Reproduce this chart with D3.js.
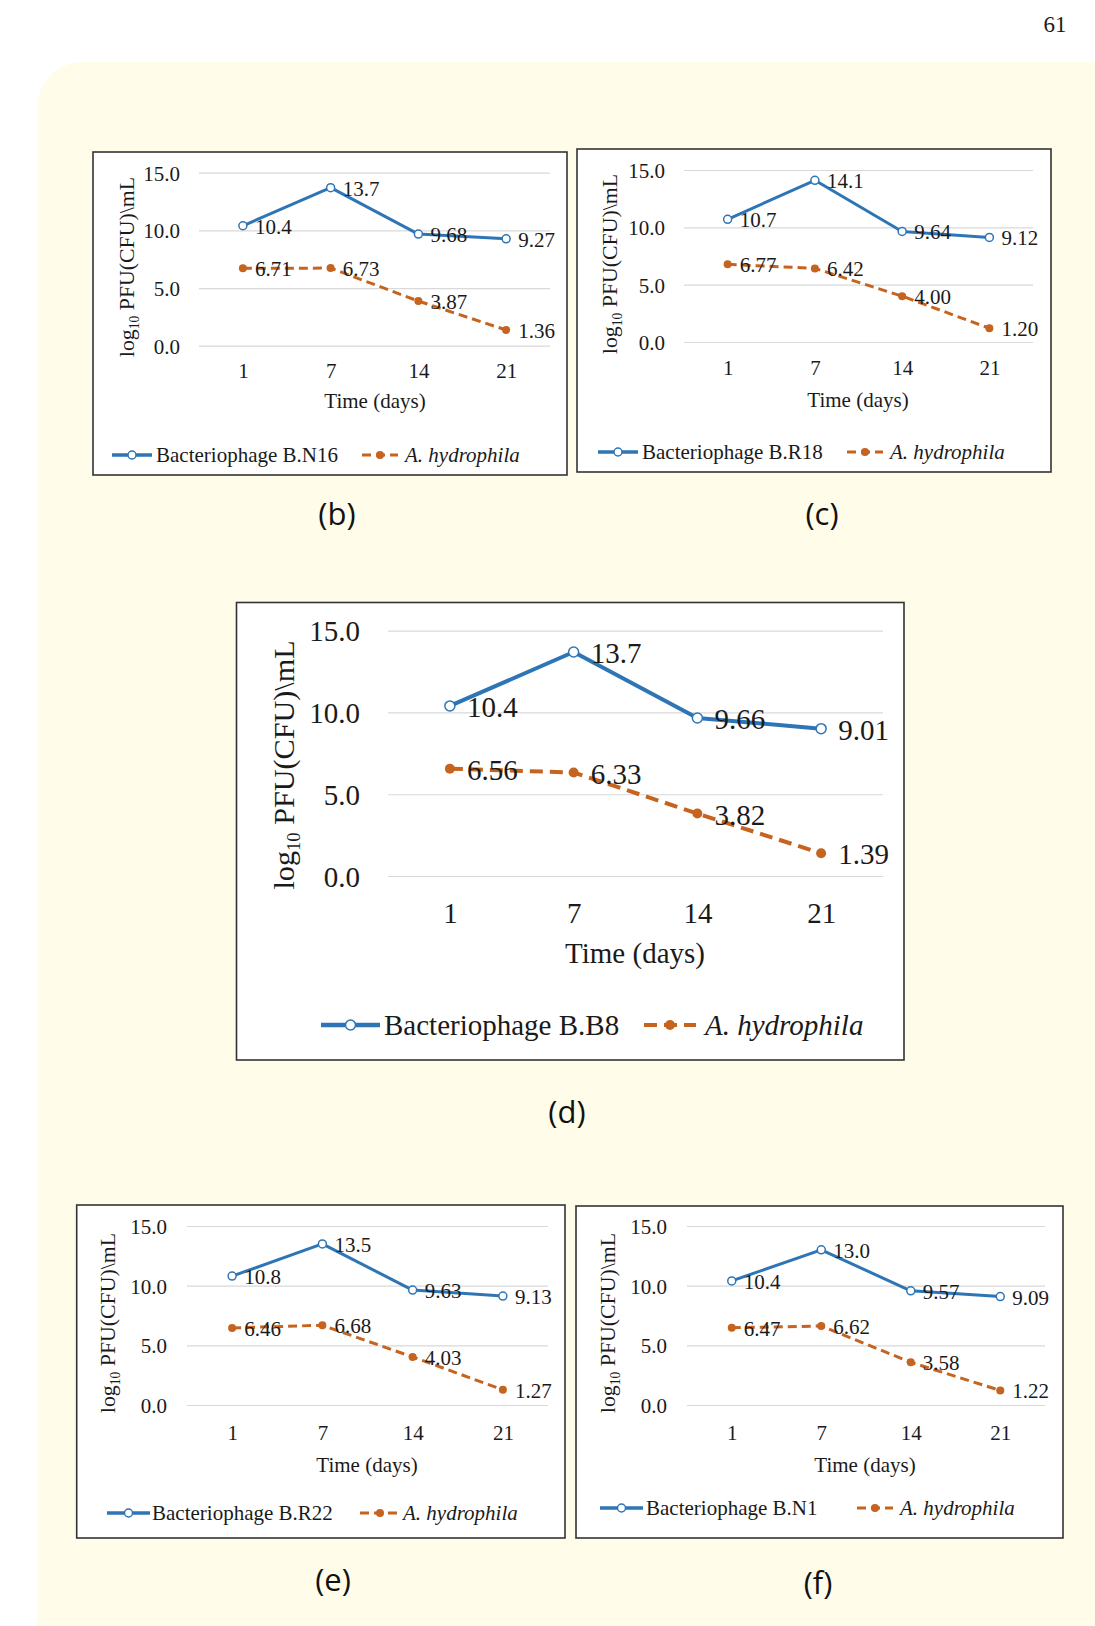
<!DOCTYPE html>
<html><head><meta charset="utf-8">
<script src="https://cdn.jsdelivr.net/npm/d3@7"></script>
<style>body{margin:0;background:#fff;} svg{display:block}</style>
</head><body>
<svg id="page" width="1095" height="1626"></svg>
<script>
// ---------- data ----------
const days = ["1", "7", "14", "21"];
const yTicks = [0, 5, 10, 15];
const hostName = "A. hydrophila";
const phageNames = ["Bacteriophage B.N16", "Bacteriophage B.R18", "Bacteriophage B.B8", "Bacteriophage B.R22", "Bacteriophage B.N1"];
const panelLabels = ["(b)", "(c)", "(d)", "(e)", "(f)"];
const phageBN16 = [10.4, 13.7, 9.68, 9.27];
const hostBN16  = [6.71, 6.73, 3.87, 1.36];
const phageBR18 = [10.7, 14.1, 9.64, 9.12];
const hostBR18  = [6.77, 6.42, 4.00, 1.20];
const phageBB8  = [10.4, 13.7, 9.66, 9.01];
const hostBB8   = [6.56, 6.33, 3.82, 1.39];
const phageBR22 = [10.8, 13.5, 9.63, 9.13];
const hostBR22  = [6.46, 6.68, 4.03, 1.27];
const phageBN1  = [10.4, 13.0, 9.57, 9.09];
const hostBN1   = [6.47, 6.62, 3.58, 1.22];
const pageNumber = "61";

// ---------- layout ----------
const BLUE = "#2E75B6", ORANGE = "#C5631F";
const SERIF = "'Liberation Serif', 'Times New Roman', serif";
const INK = "#1a1a1a";
const small = {fs: 21, lw: 3, r: 4, dash: "9,5", off: 12};
const big   = {fs: 29, lw: 4, r: 5, dash: "13,7", off: 17};

const panels = [
  {box:[93,152,567,475], px:[199,550], py:[345.7,172.7], tickR:180, xlab:378, xt:[375,408], yt:[127,267],
   leg:{y:455, b:[112,152], bt:156, o:[362,398], ot:405}, cap:[337,525], st: small,
   phage: phageBN16, host: hostBN16, name: phageNames[0], label: panelLabels[0]},
  {box:[577,149,1051,472], px:[684,1033], py:[342,170], tickR:665, xlab:375, xt:[858,407], yt:[610,264],
   leg:{y:452, b:[598,638], bt:642, o:[847,883], ot:890}, cap:[822,525], st: small,
   phage: phageBR18, host: hostBR18, name: phageNames[1], label: panelLabels[1]},
  {box:[236.5,602.5,904,1060], px:[388,883], py:[876,630.7], tickR:360, xlab:923, xt:[635,963], yt:[284,765],
   leg:{y:1025, b:[321,380], bt:384, o:[644,696], ot:705}, cap:[567,1123], st: big,
   phage: phageBB8, host: hostBB8, name: phageNames[2], label: panelLabels[2]},
  {box:[76.7,1205,565,1538], px:[187,548], py:[1405,1226], tickR:167, xlab:1440, xt:[367,1472], yt:[108,1323],
   leg:{y:1513, b:[107,150], bt:152, o:[360,400], ot:403}, cap:[333,1591], st: small,
   phage: phageBR22, host: hostBR22, name: phageNames[3], label: panelLabels[3]},
  {box:[576,1206,1063,1538], px:[687,1045], py:[1405,1226], tickR:667, xlab:1440, xt:[865,1472], yt:[608,1323],
   leg:{y:1508, b:[600,643], bt:646, o:[857,893], ot:900}, cap:[818,1594], st: small,
   phage: phageBN1, host: hostBN1, name: phageNames[4], label: panelLabels[4]}
];

const svg = d3.select("#page");

// page background
svg.append("rect").attr("x", 0).attr("y", 0).attr("width", 1095).attr("height", 1626).attr("fill", "#ffffff");
svg.append("rect").attr("x", 37).attr("y", 62).attr("width", 1100).attr("height", 1700)
  .attr("rx", 46).attr("ry", 46).attr("fill", "#FFFDE9");
svg.append("text").attr("x", 1055).attr("y", 32).attr("text-anchor", "middle")
  .attr("font-family", SERIF).attr("font-size", 23).attr("fill", INK).text(pageNumber);

const valFmt = d3.format(".3r");
const tickFmt = d3.format(".1f");

panels.forEach(p => {
  const st = p.st;
  const g = svg.append("g");
  const [bx0, by0, bx1, by1] = p.box;
  g.append("rect").attr("x", bx0).attr("y", by0).attr("width", bx1 - bx0).attr("height", by1 - by0)
    .attr("fill", "#ffffff").attr("stroke", "#333").attr("stroke-width", 1.6);

  const x = d3.scalePoint().domain(days).range(p.px).padding(0.5);
  const y = d3.scaleLinear().domain([0, 15]).range(p.py);

  // y axis with gridlines
  const ya = g.append("g").attr("transform", `translate(${p.px[0]},0)`)
    .call(d3.axisLeft(y).tickValues(yTicks).tickFormat(tickFmt)
      .tickSize(-(p.px[1] - p.px[0])).tickPadding(p.px[0] - p.tickR));
  ya.select(".domain").remove();
  ya.selectAll(".tick line").attr("stroke", "#D9D9D9").attr("stroke-width", 1.2);
  ya.selectAll(".tick text").attr("font-family", SERIF).attr("font-size", st.fs).attr("fill", INK).attr("dy", "0.35em");

  // x axis
  const xa = g.append("g").attr("transform", `translate(0,${p.py[0]})`)
    .call(d3.axisBottom(x).tickSize(0));
  xa.select(".domain").remove();
  xa.selectAll(".tick text").attr("font-family", SERIF).attr("font-size", st.fs).attr("fill", INK)
    .attr("y", p.xlab - p.py[0]).attr("dy", 0);

  // axis titles
  g.append("text").attr("x", p.xt[0]).attr("y", p.xt[1]).attr("text-anchor", "middle")
    .attr("font-family", SERIF).attr("font-size", st.fs).attr("fill", INK).text("Time (days)");
  const tfs = st.fs * 1.04;
  const yt = g.append("text")
    .attr("transform", `translate(${p.yt[0] + tfs * 0.32},${p.yt[1]}) rotate(-90)`)
    .attr("text-anchor", "middle").attr("font-family", SERIF).attr("font-size", tfs).attr("fill", INK);
  yt.append("tspan").text("log");
  yt.append("tspan").attr("font-size", tfs * 0.62).attr("dy", tfs * 0.22).text("10");
  yt.append("tspan").attr("dy", -tfs * 0.22).text(" PFU(CFU)\\mL");

  const line = d3.line().x((d, i) => x(days[i])).y(d => y(d));

  // host (dashed orange)
  g.append("path").datum(p.host).attr("d", line).attr("fill", "none").attr("stroke", ORANGE)
    .attr("stroke-width", st.lw).attr("stroke-dasharray", st.dash);
  g.selectAll(".hm").data(p.host).enter().append("circle")
    .attr("cx", (d, i) => x(days[i])).attr("cy", d => y(d)).attr("r", st.r).attr("fill", ORANGE);

  // phage (solid blue)
  g.append("path").datum(p.phage).attr("d", line).attr("fill", "none").attr("stroke", BLUE)
    .attr("stroke-width", st.lw).attr("stroke-linejoin", "round");
  g.selectAll(".pm").data(p.phage).enter().append("circle")
    .attr("cx", (d, i) => x(days[i])).attr("cy", d => y(d)).attr("r", st.r)
    .attr("fill", "#fff").attr("stroke", BLUE).attr("stroke-width", 1.5);

  // data labels
  [p.phage, p.host].forEach(vals => {
    g.selectAll(null).data(vals).enter().append("text")
      .attr("x", (d, i) => x(days[i]) + st.off).attr("y", d => y(d)).attr("dy", "0.38em")
      .attr("font-family", SERIF).attr("font-size", st.fs).attr("fill", INK)
      .text(d => valFmt(d));
  });

  // legend
  const L = p.leg;
  g.append("line").attr("x1", L.b[0]).attr("x2", L.b[1]).attr("y1", L.y).attr("y2", L.y)
    .attr("stroke", BLUE).attr("stroke-width", st.lw + 0.5);
  g.append("circle").attr("cx", (L.b[0] + L.b[1]) / 2).attr("cy", L.y).attr("r", st.r)
    .attr("fill", "#fff").attr("stroke", BLUE).attr("stroke-width", 1.5);
  g.append("text").attr("x", L.bt).attr("y", L.y).attr("dy", "0.35em")
    .attr("font-family", SERIF).attr("font-size", st.fs).attr("fill", INK).text(p.name);
  g.append("line").attr("x1", L.o[0]).attr("x2", L.o[1]).attr("y1", L.y).attr("y2", L.y)
    .attr("stroke", ORANGE).attr("stroke-width", st.lw).attr("stroke-dasharray", st.dash);
  g.append("circle").attr("cx", (L.o[0] + L.o[1]) / 2).attr("cy", L.y).attr("r", st.r).attr("fill", ORANGE);
  g.append("text").attr("x", L.ot).attr("y", L.y).attr("dy", "0.35em")
    .attr("font-family", SERIF).attr("font-size", st.fs).attr("font-style", "italic").attr("fill", INK).text(hostName);

  // caption
  svg.append("text").attr("x", p.cap[0]).attr("y", p.cap[1]).attr("text-anchor", "middle")
    .attr("font-family", "'Open Sans', 'Noto Sans', sans-serif").attr("font-size", 31).attr("fill", "#111")
    .text(p.label);
});
</script>
</body></html>
